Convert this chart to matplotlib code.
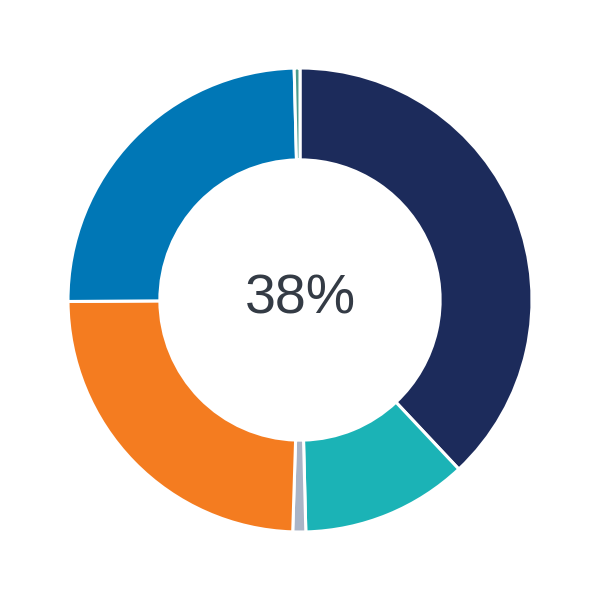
import matplotlib
matplotlib.use("Agg")
import matplotlib.pyplot as plt

labels = ["A", "B", "C", "D", "E", "F"]
values = [38.0, 11.6, 0.9, 24.4, 24.7, 0.4]
colors = ["#1c2b5b", "#1bb3b6", "#aab4c6", "#f47c20", "#0077b6", "#4c9c8c"]
center_text = "38%"

fig = plt.figure(figsize=(6, 6), dpi=100)
ax = fig.add_axes([0, 0, 1, 1])
ax.pie(values, colors=colors, startangle=90, counterclock=False,
       radius=1.0,
       wedgeprops=dict(width=0.396, edgecolor="white", linewidth=2.2))
L = 300 / 232
ax.set_xlim(-L, L)
ax.set_ylim(-L, L)
ax.set_aspect("equal")
ax.axis("off")
ax.text(0, 0, center_text, ha="center", va="center", fontsize=40,
        color="#343b45", family="Liberation Sans")
fig.savefig("out.png", dpi=100, facecolor="white")
